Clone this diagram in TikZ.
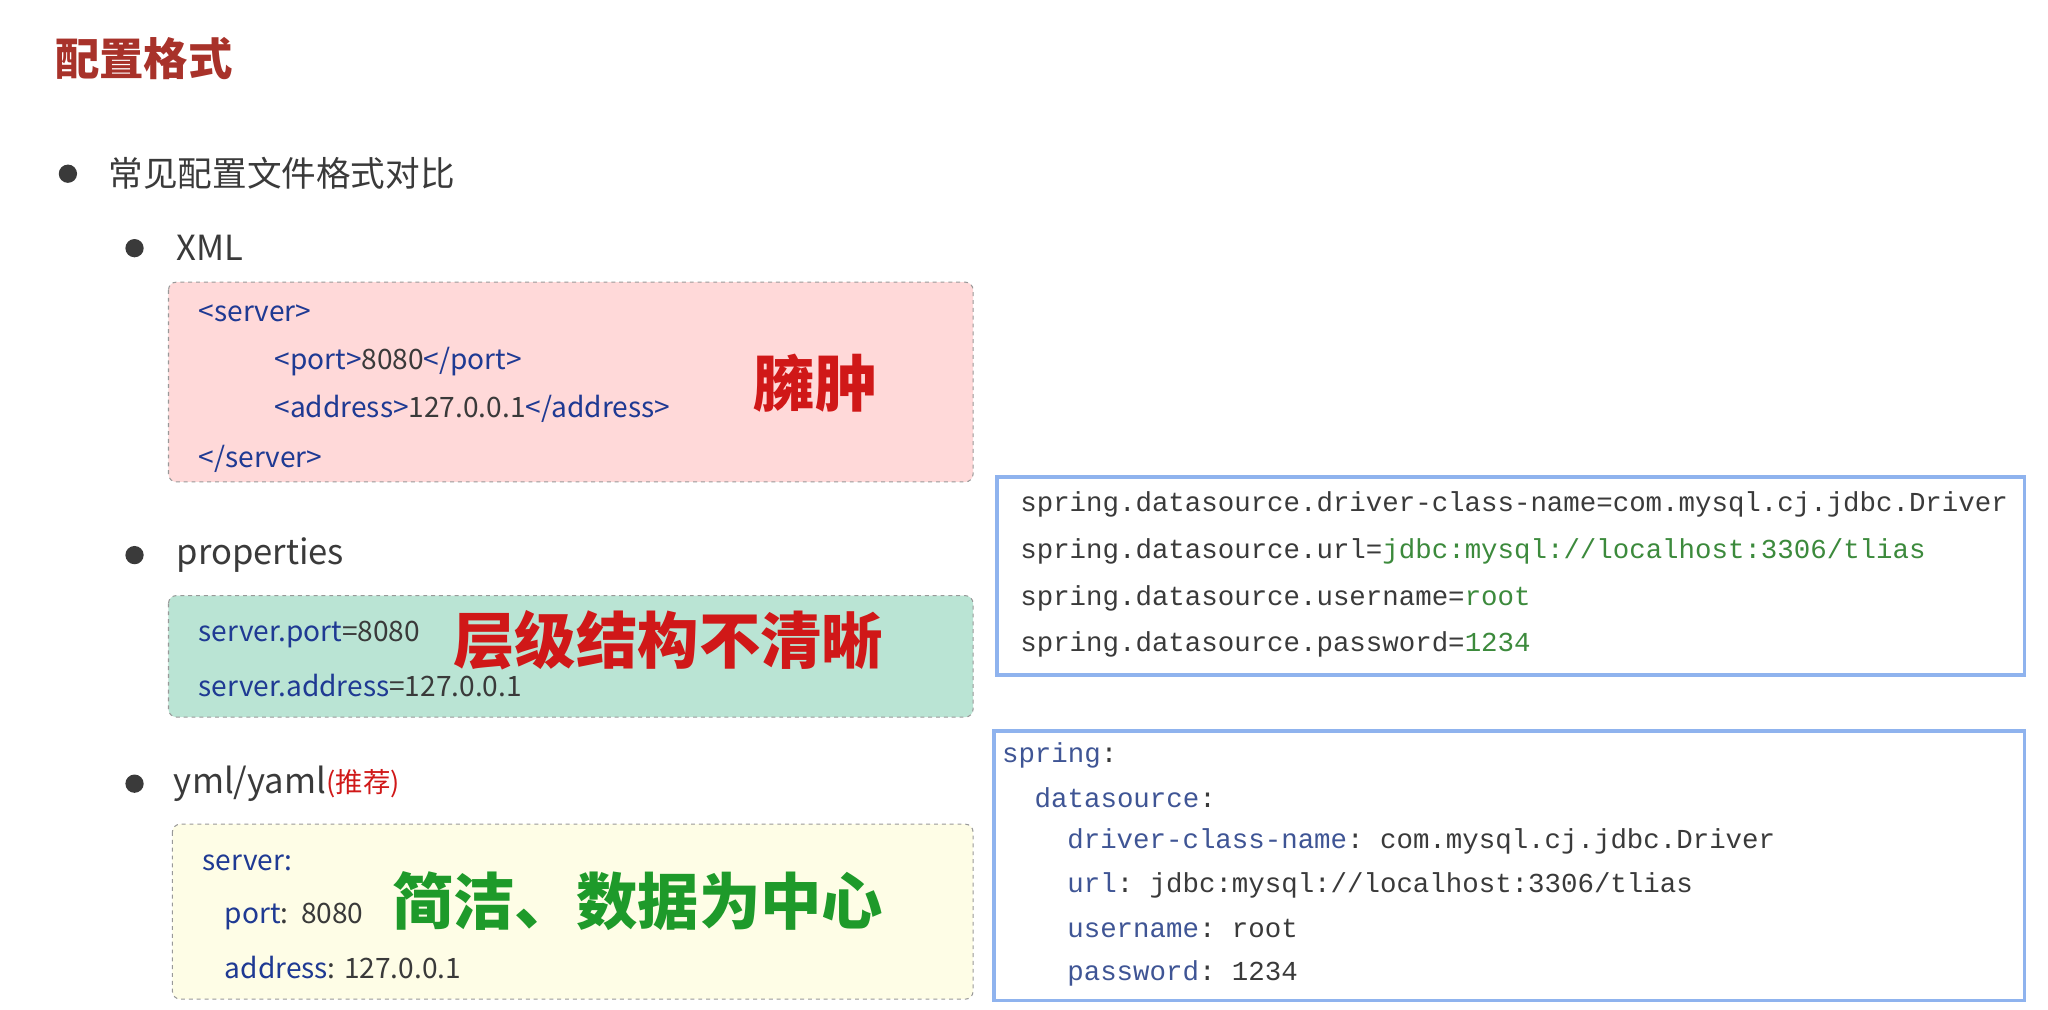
\documentclass[tikz,border=0pt]{standalone}
\usepackage{fontspec}
\setmainfont{Noto Sans CJK SC}
\newfontfamily\cjkb{Noto Sans CJK SC}[BoldFont=* Black]
\setmonofont{Liberation Mono}
\definecolor{titred}{HTML}{A8322A}
\definecolor{txtg}{HTML}{3A3A3A}
\definecolor{tagb}{HTML}{1F3A93}
\definecolor{hred}{HTML}{D01818}
\definecolor{hgreen}{HTML}{1E9A2A}
\definecolor{cgreen}{HTML}{3C8A3C}
\definecolor{ykey}{HTML}{3F5595}
\definecolor{bblue}{HTML}{8FB3EE}
\begin{document}
\begin{tikzpicture}[x=1pt,y=-1pt,
  tx/.style={anchor=west,inner sep=0pt,font=\fontsize{21.5}{21.5}\selectfont,text=txtg},
  hd/.style={anchor=west,inner sep=0pt,font=\fontsize{26.5}{26.5}\selectfont,text=txtg},
  hand/.style={anchor=west,inner sep=0pt,font=\cjkb\bfseries\fontsize{47}{47}\selectfont},
  cd/.style={anchor=west,inner sep=0pt,font=\ttfamily\fontsize{21}{21}\selectfont,text=txtg},
  dbox/.style={draw=gray!80,dashed,rounded corners=6pt,line width=0.8pt},
  cbox/.style={draw=bblue,line width=3pt},
  dot/.style={circle,fill=txtg,inner sep=0pt,minimum size=14pt}]
\useasboundingbox (0,0) rectangle (1568,773);
\node[anchor=west,inner sep=0pt,font=\bfseries\fontsize{34}{34}\selectfont,text=titred] (title) at (42,45) {配置格式};
\node[dot] (b0) at (52,133) {};
\node[hd] (h0) at (83,133) {常见配置文件格式对比};
% XML
\node[dot] (b1) at (103,190) {};
\node[hd] (h1) at (135,190) {XML};
\draw[dbox,fill=red!15] (129,216) rectangle (745,369);
\node[tx,text=tagb] (x1) at (152,240) {<server>};
\node[tx] (x2) at (210,277) {\textcolor{tagb}{<port>}8080\textcolor{tagb}{</port>}};
\node[tx] (x3) at (210,313) {\textcolor{tagb}{<address>}127.0.0.1\textcolor{tagb}{</address>}};
\node[tx,text=tagb] (x4) at (152,351) {</server>};
\node[hand,text=hred] (w1) at (577,293) {臃肿};
% properties
\node[dot] (b2) at (103,425) {};
\node[hd] (h2) at (135,425) {properties};
\draw[dbox,fill={rgb,255:red,186;green,228;blue,212}] (129,456) rectangle (745,549);
\node[tx] (p1) at (152,486) {\textcolor{tagb}{server.port}=8080};
\node[tx] (p2) at (152,525) {\textcolor{tagb}{server.address}=127.0.0.1};
\node[hand,text=hred] (w2) at (347,490) {层级结构不清晰};
% yml
\node[dot] (b3) at (103,600) {};
\node[hd] (h3) at (133,600) {yml/yaml};
\node[anchor=west,inner sep=0pt,font=\fontsize{21}{21}\selectfont,text=hred] (h3b) at (h3.east) {(推荐)};
\draw[dbox,fill={rgb,255:red,254;green,253;blue,230}] (132,631) rectangle (745,765);
\node[tx,text=tagb] (y1) at (155,661) {server:};
\node[tx] (y2) at (172,702) {\textcolor{tagb}{port}:\ \ 8080};
\node[tx] (y3) at (172,741) {\textcolor{tagb}{address}: 127.0.0.1};
\node[hand,text=hgreen] (w3) at (300,690) {简洁、数据为中心};
% code boxes
\draw[cbox,fill=white] (763,365) rectangle (1550,517);
\node[cd] (c1) at (781,386) {spring.datasource.driver-class-name=com.mysql.cj.jdbc.Driver};
\node[cd] (c2) at (781,422) {spring.datasource.url=\textcolor{cgreen}{jdbc:mysql://localhost:3306/tlias}};
\node[cd] (c3) at (781,458) {spring.datasource.username=\textcolor{cgreen}{root}};
\node[cd] (c4) at (781,493) {spring.datasource.password=\textcolor{cgreen}{1234}};
\draw[cbox,fill=white] (761,560) rectangle (1550,766);
\node[cd,text=ykey] (d1) at (767,578) {spring\textcolor{txtg}{:}};
\node[cd,text=ykey] (d2) at (792,611) {datasource\textcolor{txtg}{:}};
\node[cd] (d3) at (817,644) {\textcolor{ykey}{driver-class-name}: com.mysql.cj.jdbc.Driver};
\node[cd] (d4) at (817,678) {\textcolor{ykey}{url}: jdbc:mysql://localhost:3306/tlias};
\node[cd] (d5) at (817,711) {\textcolor{ykey}{username}: root};
\node[cd] (d6) at (817,745) {\textcolor{ykey}{password}: 1234};
\end{tikzpicture}
\end{document}
